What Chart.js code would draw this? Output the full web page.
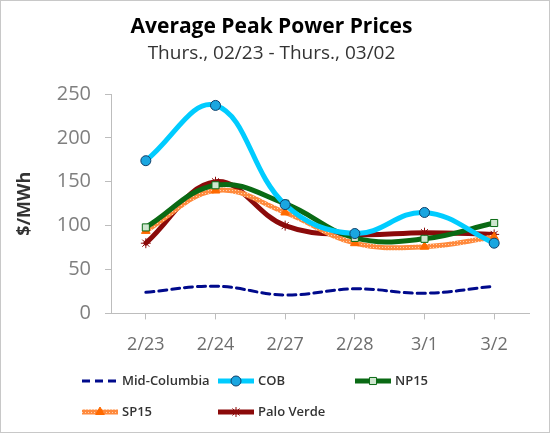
<!DOCTYPE html>
<html>
<head>
<meta charset="utf-8">
<script src="https://cdn.jsdelivr.net/npm/chart.js@4"></script>
<style>
  html, body { margin: 0; padding: 0; background: #fff; }
  #wrap { width: 550px; height: 433px; position: relative; }
</style>
</head>
<body>
<div id="wrap"><canvas id="priceChart" width="550" height="433"></canvas></div>
<script>
// данные графика
const days = ['2/23', '2/24', '2/27', '2/28', '3/1', '3/2'];
const midColumbia = [24, 31, 21, 28, 23, 31];
const cob = [174, 237, 124, 91, 115, 80];
const np15 = [98, 146, 125, 86, 85, 103];
const sp15 = [94, 140, 115, 80, 76, 87];
const paloVerde = [80, 150, 100, 90, 92, 90];

const FONT = '"Open Sans", "Noto Sans", sans-serif';

// штриховка для SP15
function makeHatch() {
    const c = document.createElement('canvas');
    c.width = 3; c.height = 3;
    const g = c.getContext('2d');
    g.fillStyle = '#ff8a3d';
    g.fillRect(0, 0, 3, 3);
    g.fillStyle = '#ffd2b0';
    g.fillRect(1, 1, 1, 1);
    return g.createPattern(c, 'repeat');
}

// рамка вокруг картинки
const borderPlugin = {
    id: 'frame',
    beforeDraw(chart) {
        const ctx = chart.ctx;
        ctx.save();
        ctx.fillStyle = '#fff';
        ctx.fillRect(0, 0, chart.width, chart.height);
        ctx.strokeStyle = '#c8c8c8';
        ctx.lineWidth = 1;
        ctx.strokeRect(0.5, 0.5, chart.width - 1, chart.height - 1);
        ctx.restore();
    }
};

// легенда в две строки, как в исходнике
const gridLegend = {
    id: 'gridLegend',
    afterDraw(chart) {
        const ctx = chart.ctx;
        const slots = [[82, 381], [218, 381], [355, 381], [82, 412], [218, 412]];
        chart.data.datasets.forEach((ds, i) => {
            const [x, y] = slots[i];
            const len = 36;
            ctx.save();
            ctx.strokeStyle = ds.borderColor;
            ctx.lineWidth = ds.borderWidth;
            ctx.setLineDash(ds.borderDash || []);
            ctx.lineCap = 'butt';
            ctx.beginPath();
            ctx.moveTo(x, y);
            ctx.lineTo(x + len, y);
            ctx.stroke();
            ctx.setLineDash([]);
            if (ds.pointStyle && ds.pointRadius > 0) {
                ctx.fillStyle = ds.pointBackgroundColor;
                ctx.strokeStyle = ds.pointBorderColor;
                ctx.lineWidth = ds.pointBorderWidth;
                Chart.helpers.drawPoint(ctx, {
                    pointStyle: ds.pointStyle,
                    radius: ds.pointRadius,
                    rotation: 0,
                    borderWidth: ds.pointBorderWidth
                }, x + len / 2, y);
            }
            ctx.fillStyle = '#333';
            ctx.font = '600 13px ' + FONT;
            ctx.textBaseline = 'middle';
            ctx.fillText(ds.label, x + len + 4, y);
            ctx.restore();
        });
    }
};

function buildDatasets() {
    return [
        {
            label: 'Mid-Columbia',
            data: midColumbia,
            borderColor: '#000a8c',
            borderWidth: 3,
            borderDash: [8, 5],
            pointRadius: 0,
            pointStyle: false
        },
        {
            label: 'COB',
            data: cob,
            borderColor: '#00ccff',
            borderWidth: 5,
            pointStyle: 'circle',
            pointRadius: 5,
            pointBackgroundColor: '#1aa6e0',
            pointBorderColor: '#10406a',
            pointBorderWidth: 1
        },
        {
            label: 'NP15',
            data: np15,
            borderColor: '#0a6a14',
            borderWidth: 5,
            pointStyle: 'rect',
            pointRadius: 5,
            pointBackgroundColor: '#cfe6cf',
            pointBorderColor: '#0a6a14',
            pointBorderWidth: 1
        },
        {
            label: 'SP15',
            data: sp15,
            borderColor: makeHatch(),
            borderWidth: 5,
            pointStyle: 'triangle',
            pointRadius: 5,
            pointBackgroundColor: '#ff6a00',
            pointBorderColor: '#ff6a00',
            pointBorderWidth: 1
        },
        {
            label: 'Palo Verde',
            data: paloVerde,
            borderColor: '#8b0a0a',
            borderWidth: 5,
            pointStyle: 'star',
            pointRadius: 5,
            pointBackgroundColor: '#8b0a0a',
            pointBorderColor: '#8b0a0a',
            pointBorderWidth: 1
        }
    ];
}

function renderChart() {
    const canvas = document.getElementById('priceChart');
    const ctx = canvas.getContext('2d');

    new Chart(ctx, {
        type: 'line',
        data: { labels: days, datasets: buildDatasets() },
        options: {
            responsive: false,
            animation: false,
            devicePixelRatio: 1,
            layout: { padding: { left: 14, right: 21, top: 0, bottom: 62 } },
            elements: { line: { tension: 0.4, borderCapStyle: 'round' } },
            scales: {
                x: {
                    offset: true,
                    grid: {
                        offset: false,
                        drawOnChartArea: false,
                        drawTicks: true,
                        tickLength: 6,
                        color: '#bdbdbd'
                    },
                    border: { color: '#bdbdbd', width: 1 },
                    ticks: {
                        color: '#6e6e6e',
                        font: { family: FONT, size: 18 },
                        padding: 15,
                        maxRotation: 0
                    }
                },
                y: {
                    min: 0,
                    max: 250,
                    afterFit: (s) => { s.width = 97; },
                    grid: {
                        drawOnChartArea: false,
                        drawTicks: true,
                        tickLength: 6,
                        color: '#bdbdbd'
                    },
                    border: { color: '#bdbdbd', width: 1 },
                    ticks: {
                        stepSize: 50,
                        color: '#7f7f7f',
                        font: { family: FONT, size: 20 },
                        padding: 14
                    },
                    title: {
                        display: true,
                        text: '$/MWh',
                        color: '#333',
                        font: { family: FONT, size: 18, weight: 'bold' },
                        padding: { top: 0, bottom: 6 }
                    }
                }
            },
            plugins: {
                legend: { display: false },
                tooltip: { enabled: false },
                title: {
                    display: true,
                    text: 'Average Peak Power Prices',
                    color: '#000',
                    font: { family: FONT, size: 21, weight: 'bold' },
                    padding: { top: 14, bottom: 0 }
                },
                subtitle: {
                    display: true,
                    text: 'Thurs., 02/23 - Thurs., 03/02',
                    color: '#333',
                    font: { family: FONT, size: 19 },
                    padding: { top: 3, bottom: 29 }
                }
            }
        },
        plugins: [borderPlugin, gridLegend]
    });
}

document.addEventListener('DOMContentLoaded', renderChart);
</script>
</body>
</html>
